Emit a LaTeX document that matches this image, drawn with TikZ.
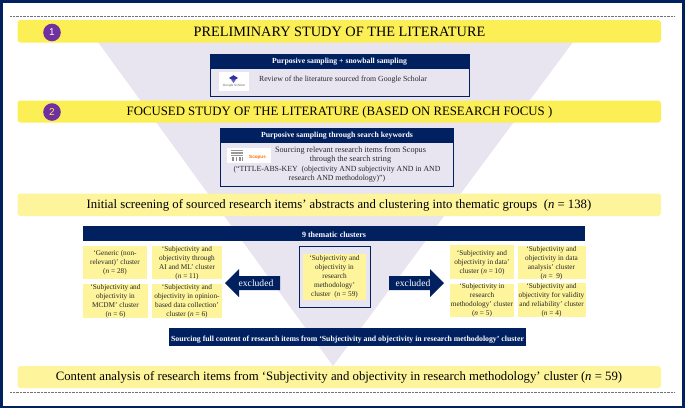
\documentclass[tikz,border=0pt]{standalone}
\usepackage{fontspec}
\setmainfont{Liberation Serif}
\setsansfont{Liberation Sans}
\definecolor{navy}{HTML}{002060}
\definecolor{lav}{HTML}{E8E5F1}
\definecolor{ybar}{HTML}{FCEE55}
\definecolor{ylight}{HTML}{FDF49C}
\definecolor{purp}{HTML}{7030A0}
\definecolor{ink}{HTML}{262626}
\newcommand{\fs}[1]{\fontsize{#1}{#1}\selectfont}
\newcommand{\fsb}[2]{\fontsize{#1}{#2}\selectfont}
\newcommand{\nn}{\textit{n}}
\tikzset{
  barbox/.style={rounded corners=3pt,fill=ybar,draw=none},
  lbarbox/.style={rounded corners=3pt,fill=ylight,draw=none},
  head/.style={fill=navy,draw=none},
  framebox/.style={draw=navy,line width=0.9pt,fill=lav},
  clu/.style={fill=ylight,draw=none},
  clutxt/.style={align=center,font=\fsb{7.3}{9},text=ink,inner sep=0pt},
  headtxt/.style={align=center,text=white,inner sep=0pt},
  bartxt/.style={align=center,text=black,inner sep=0pt},
  numdot/.style={circle,fill=purp,minimum size=17.6pt,inner sep=0pt,font=\sffamily\fs{10}},
  dotline/.style={line width=1pt,dash pattern=on 0.8pt off 0.6pt,draw=black!55},
  arrowshape/.style={fill=navy,draw=none},
}
\begin{document}
\begin{tikzpicture}[x=1pt,y=-1pt]
\useasboundingbox (0,0) rectangle (685,408);
\fill[white] (0,0) rectangle (685,408);
\draw[navy,line width=2.5pt] (1.25,1.25) rectangle (683.5,406.75);
% funnel
\fill[lav] (98,42) -- (573,42) -- (333,366) -- cycle;
% dotted rules
\coordinate (dl1) at (10,16.5); \coordinate (dr1) at (675,16.5);
\coordinate (dl2) at (10,392.5); \coordinate (dr2) at (675,392.5);
\draw[dotline] (dl1) -- (dr1);
\draw[dotline] (dl2) -- (dr2);
% main bars
\filldraw[barbox] (17.5,20) rectangle (661,42.5);
\node[bartxt,font=\fs{14.3}] (t1) at (339.5,31.5) {PRELIMINARY STUDY OF THE LITERATURE};
\node[numdot,text=white] (n1) at (52,32.5) {1};
\filldraw[barbox] (17.5,100.5) rectangle (661,122.5);
\node[bartxt,font=\fs{12.8}] (t2) at (339.5,112) {FOCUSED STUDY OF THE LITERATURE (BASED ON RESEARCH FOCUS )};
\node[numdot,text=ybar] (n2) at (52,112) {2};
\filldraw[lbarbox] (17.5,193.5) rectangle (661,216);
\node[bartxt,font=\fs{12.75}] (t3) at (339,205) {Initial screening of sourced research items’ abstracts and clustering into thematic groups\ \ (\nn{} = 138)};
\filldraw[lbarbox] (17.5,366) rectangle (661,388);
\node[bartxt,font=\fs{12.75}] (t4) at (339,377.5) {Content analysis of research items from ‘Subjectivity and objectivity in research methodology’ cluster (\nn{} = 59)};
% box 1
\draw[framebox] (210.5,54.5) rectangle (469,96.5);
\fill[head] (210.5,54.5) rectangle (469,69);
\node[headtxt,font=\fs{7.75}\bfseries] (h1) at (339.5,62) {Purposive sampling + snowball sampling};
\fill[white] (219,72) rectangle (249,91);
\fill[blue!55!black!80] (233.5,75.2) -- (238,78) -- (233.5,80.8) -- (229,78) -- cycle;
\fill[blue!55!black!60] (231,79.5) -- (236,79.5) -- (233.5,83) -- cycle;
\node[inner sep=0pt,font=\sffamily\fs{3.2},text=black!60] (gs) at (234,85.5) {Google Scholar};
\node[inner sep=0pt,font=\fs{7.8},text=ink] (r1) at (343,80) {Review of the literature sourced from Google Scholar};
% box 2
\draw[framebox] (220.5,128) rectangle (453.5,186);
\fill[head] (220.5,128) rectangle (453.5,143);
\node[headtxt,font=\fs{7.8}\bfseries] (h2) at (337,136) {Purposive sampling through search keywords};
\fill[white] (227,148) rectangle (271,163);
\foreach \yy in {150,151.5,153,154.5}{\fill[black!40] (231,\yy) rectangle (243,\yy+0.9);}
\foreach \xx in {232,235.5,239,241.5}{\fill[black!45] (\xx,156.5) rectangle (\xx+1.6,161);}
\node[inner sep=0pt,font=\sffamily\bfseries\fs{4.6},text=orange!85!red] (sc) at (257.5,157) {Scopus};
\node[align=center,inner sep=0pt,text=ink,font=\fsb{8.2}{9.4}] (r2a) at (350.5,155.2) {Sourcing relevant research items from Scopus\\through the search string};
\node[align=center,inner sep=0pt,text=ink,font=\fsb{7.8}{9.4}] (r2b) at (337,174.3) {(“TITLE-ABS-KEY\ \ (objectivity AND subjectivity AND in AND\\research AND methodology)”)};
% thematic header
\fill[head] (83,225.5) rectangle (585,241);
\node[headtxt,font=\fs{8}\bfseries] (h3) at (334,234.5) {9 thematic clusters};
% left clusters
\fill[clu] (83,245.5) rectangle (147,279);
\node[clutxt] (c1) at (115,262.5) {‘Generic (non-\\relevant)’ cluster\\(\nn{} = 28)};
\fill[clu] (152,245.5) rectangle (222,279);
\node[clutxt] (c2) at (187,263) {‘Subjectivity and\\objectivity through\\AI and ML’ cluster\\(\nn{} = 11)};
\fill[clu] (83,284) rectangle (148,318);
\node[clutxt] (c3) at (115.5,301.5) {‘Subjectivity and\\objectivity in\\MCDM’ cluster\\(\nn{} = 6)};
\fill[clu] (152,284) rectangle (222,318);
\node[clutxt] (c4) at (187,301.5) {‘Subjectivity and\\objectivity in opinion-\\based data collection’\\cluster (\nn{} = 6)};
% middle
\draw[navy,line width=0.9pt] (299.5,246.5) rectangle (370,307);
\fill[clu] (303,254) rectangle (366,300);
\node[clutxt] (c5) at (334.5,277) {‘Subjectivity and\\objectivity in\\research\\methodology’\\cluster\ \ (\nn{} = 59)};
% arrows
\fill[arrowshape] (225,283) -- (239,269) -- (239,276) -- (280,276) -- (280,290) -- (239,290) -- (239,297) -- cycle;
\node[inner sep=0pt,font=\fs{9.6},text=white] (ex1) at (256,283.5) {excluded};
\fill[arrowshape] (444,283) -- (430,269) -- (430,276) -- (389,276) -- (389,290) -- (430,290) -- (430,297) -- cycle;
\node[inner sep=0pt,font=\fs{9.6},text=white] (ex2) at (413,283.5) {excluded};
% right clusters
\fill[clu] (450,245) rectangle (514,279);
\node[clutxt] (c6) at (482,262.5) {‘Subjectivity and\\objectivity in data’\\cluster (\nn{} = 10)};
\fill[clu] (517.5,246) rectangle (586,279);
\node[clutxt] (c7) at (551.5,263) {‘Subjectivity and\\objectivity in data\\analysis’ cluster\\(\nn{} =\ \ 9)};
\fill[clu] (450,283.5) rectangle (514,317);
\node[clutxt] (c8) at (482,300.5) {‘Subjectivity in\\research\\methodology’ cluster\\(\nn{} = 5)};
\fill[clu] (517.5,283) rectangle (586,317);
\node[clutxt] (c9) at (551.5,300.5) {‘Subjectivity and\\objectivity for validity\\and reliability’ cluster\\(\nn{} = 4)};
% sourcing bar
\fill[head] (169,328) rectangle (526,346);
\node[headtxt,font=\fs{7.8}\bfseries] (h4) at (347.5,339.5) {Sourcing full content of research items from ‘Subjectivity and objectivity in research methodology’ cluster};
\end{tikzpicture}
\end{document}
